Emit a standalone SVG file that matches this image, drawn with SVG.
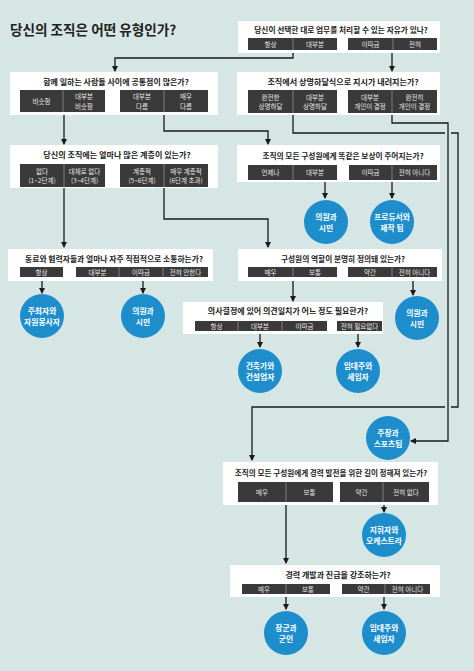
<svg xmlns="http://www.w3.org/2000/svg" width="474" height="671" viewBox="0 0 474 671">
<defs>
<style>
.bg{fill:#d5e6e5}
.box{fill:#ffffff}
.btn{fill:#3a3a3a}
.sep{stroke:#9c9c9c;stroke-width:0.7}
text{font-family:"Noto Sans CJK KR","Noto Sans",sans-serif}
.q{font-weight:bold;fill:#222;text-anchor:middle}
.b{fill:#e6e6e6;font-size:6.5px;text-anchor:middle}
.c{fill:#1d8dcc}
.ct{fill:#fff;font-weight:bold;font-size:7.8px;text-anchor:middle}
.ln{fill:none;stroke:#1a1a1a;stroke-width:1.3}
</style>
<marker id="ah" viewBox="0 0 6 6" markerWidth="6" markerHeight="6" refX="5" refY="3" orient="auto" markerUnits="userSpaceOnUse">
<path d="M0,0 L6,3 L0,6 z" fill="#1a1a1a"/>
</marker>
</defs>
<rect class="bg" x="0" y="0" width="474" height="671"/>
<text x="10" y="35" font-size="13.6" font-weight="bold" fill="#222">당신의 조직은 어떤 유형인가?</text>

<g id="connectors">
<path class="ln" marker-end="url(#ah)" d="M293,50 V58 H115 V71"/>
<path class="ln" marker-end="url(#ah)" d="M392,50 V71"/>
<path class="ln" marker-end="url(#ah)" d="M64,112 V144"/>
<path class="ln" marker-end="url(#ah)" d="M164,112 V131 H268 V144"/>
<path class="ln" marker-end="url(#ah)" d="M293,113 V133 H445 M451,133 H458 V407 H451 M445,407 H252 V460"/>
<path class="ln" marker-end="url(#ah)" d="M392,113 V123 H448 V441 H411"/>
<path class="ln" marker-end="url(#ah)" d="M64,187 V247"/>
<path class="ln" marker-end="url(#ah)" d="M164,187 V219 H268 V247"/>
<path class="ln" marker-end="url(#ah)" d="M325,180 V198"/>
<path class="ln" marker-end="url(#ah)" d="M392,180 V198"/>
<path class="ln" marker-end="url(#ah)" d="M42,277 V293"/>
<path class="ln" marker-end="url(#ah)" d="M143,277 V293"/>
<path class="ln" marker-end="url(#ah)" d="M293,277 V301"/>
<path class="ln" marker-end="url(#ah)" d="M413,277 V295"/>
<path class="ln" marker-end="url(#ah)" d="M260,331 V347"/>
<path class="ln" marker-end="url(#ah)" d="M358,331 V347"/>
<path class="ln" marker-end="url(#ah)" d="M286,502 V563"/>
<path class="ln" marker-end="url(#ah)" d="M384,502 V512"/>
<path class="ln" marker-end="url(#ah)" d="M286,594 V609"/>
<path class="ln" marker-end="url(#ah)" d="M384,594 V609"/>
</g>

<g id="q-freedom">
<rect class="box" x="238" y="21" width="202" height="32"/>
<text class="q" x="341" y="33" font-size="7.7">당신이 선택한 대로 업무를 처리할 수 있는 자유가 있나?</text>
<rect class="btn" x="248" y="38" width="89" height="12"/>
<line class="sep" x1="293" y1="38" x2="293" y2="50"/>
<rect class="btn" x="348" y="38" width="89" height="12"/>
<line class="sep" x1="393" y1="38" x2="393" y2="50"/>
<text class="b" x="270.5" y="46.5">항상</text>
<text class="b" x="315" y="46.5">대부분</text>
<text class="b" x="370.5" y="46.5">이따금</text>
<text class="b" x="415" y="46.5">전혀</text>
</g>

<g id="q-common">
<rect class="box" x="10" y="72" width="208" height="43"/>
<text class="q" x="116" y="85" font-size="8">함께 일하는 사람들 사이에 공통점이 많은가?</text>
<rect class="btn" x="20" y="90" width="85" height="22"/>
<line class="sep" x1="63" y1="90" x2="63" y2="112"/>
<rect class="btn" x="120" y="90" width="88" height="22"/>
<line class="sep" x1="164" y1="90" x2="164" y2="112"/>
<text class="b" x="41.5" y="103.5">비슷함</text>
<text class="b" x="84" y="99">대부분</text>
<text class="b" x="84" y="108.5">비슷함</text>
<text class="b" x="142" y="99">대부분</text>
<text class="b" x="142" y="108.5">다름</text>
<text class="b" x="186" y="99">매우</text>
<text class="b" x="186" y="108.5">다름</text>
</g>

<g id="q-topdown">
<rect class="box" x="237" y="72" width="203" height="43"/>
<text class="q" x="343" y="85" font-size="8.1">조직에서 상명하달식으로 지시가 내려지는가?</text>
<rect class="btn" x="248" y="90" width="89" height="23"/>
<line class="sep" x1="293" y1="90" x2="293" y2="113"/>
<rect class="btn" x="348" y="90" width="89" height="23"/>
<line class="sep" x1="392" y1="90" x2="392" y2="113"/>
<text class="b" x="270.5" y="99.5">완전한</text>
<text class="b" x="270.5" y="109">상명하달</text>
<text class="b" x="315" y="99.5">대부분</text>
<text class="b" x="315" y="109">상명하달</text>
<text class="b" x="370" y="99.5">대부분</text>
<text class="b" x="370" y="109">개인이 결정</text>
<text class="b" x="414.5" y="99.5">완전히</text>
<text class="b" x="414.5" y="109">개인이 결정</text>
</g>

<g id="q-hierarchy">
<rect class="box" x="10" y="145" width="208" height="43"/>
<text class="q" x="117" y="158" font-size="8.1">당신의 조직에는 얼마나 많은 계층이 있는가?</text>
<rect class="btn" x="20" y="164" width="85" height="23"/>
<line class="sep" x1="64" y1="164" x2="64" y2="187"/>
<rect class="btn" x="120" y="164" width="88" height="23"/>
<line class="sep" x1="164" y1="164" x2="164" y2="187"/>
<text class="b" x="42" y="173.5">없다</text>
<text class="b" x="42" y="183">(1~2단계)</text>
<text class="b" x="84.5" y="173.5">대체로 없다</text>
<text class="b" x="84.5" y="183">(3~4단계)</text>
<text class="b" x="142" y="173.5">계층적</text>
<text class="b" x="142" y="183">(5~6단계)</text>
<text class="b" x="186" y="173.5">매우 계층적</text>
<text class="b" x="186" y="183">(6단계 초과)</text>
</g>

<g id="q-reward">
<rect class="box" x="237" y="145" width="203" height="37"/>
<text class="q" x="343" y="159" font-size="7.7">조직의 모든 구성원에게 똑같은 보상이 주어지는가?</text>
<rect class="btn" x="248" y="165" width="89" height="15"/>
<line class="sep" x1="293" y1="165" x2="293" y2="180"/>
<rect class="btn" x="349" y="165" width="88" height="15"/>
<line class="sep" x1="392" y1="165" x2="392" y2="180"/>
<text class="b" x="270.5" y="175">언제나</text>
<text class="b" x="315" y="175">대부분</text>
<text class="b" x="370.5" y="175">이따금</text>
<text class="b" x="414.5" y="175">전혀 아니다</text>
</g>

<g id="q-communicate">
<rect class="box" x="8" y="249" width="205" height="32"/>
<text class="q" x="114" y="262" font-size="7.8">동료와 협력자들과 얼마나 자주 직접적으로 소통하는가?</text>
<rect class="btn" x="20" y="267" width="43" height="10"/>
<rect class="btn" x="76" y="267" width="132" height="10"/>
<line class="sep" x1="119" y1="267" x2="119" y2="277"/>
<line class="sep" x1="163" y1="267" x2="163" y2="277"/>
<text class="b" x="41.5" y="274.5">항상</text>
<text class="b" x="97.5" y="274.5">대부분</text>
<text class="b" x="141" y="274.5">이따금</text>
<text class="b" x="185.5" y="274.5">전혀 안한다</text>
</g>

<g id="q-roles">
<rect class="box" x="238" y="249" width="204" height="32"/>
<text class="q" x="343" y="262" font-size="7.7">구성원의 역할이 분명히 정의돼 있는가?</text>
<rect class="btn" x="248" y="267" width="89" height="10"/>
<line class="sep" x1="293" y1="267" x2="293" y2="277"/>
<rect class="btn" x="348" y="267" width="89" height="10"/>
<line class="sep" x1="392" y1="267" x2="392" y2="277"/>
<text class="b" x="270.5" y="274.5">매우</text>
<text class="b" x="315" y="274.5">보통</text>
<text class="b" x="370" y="274.5">약간</text>
<text class="b" x="414.5" y="274.5">전혀 아니다</text>
</g>

<g id="q-consensus">
<rect class="box" x="183" y="302" width="200" height="32"/>
<text class="q" x="288" y="314" font-size="8">의사결정에 있어 의견일치가 어느 정도 필요한가?</text>
<rect class="btn" x="195" y="321" width="132" height="10"/>
<line class="sep" x1="238" y1="321" x2="238" y2="331"/>
<line class="sep" x1="282" y1="321" x2="282" y2="331"/>
<rect class="btn" x="337" y="321" width="45" height="10"/>
<text class="b" x="216.5" y="328.5">항상</text>
<text class="b" x="260" y="328.5">대부분</text>
<text class="b" x="304.5" y="328.5">이따금</text>
<text class="b" x="359.5" y="328.5">전혀 필요없다</text>
</g>

<g id="q-career">
<rect class="box" x="223" y="462" width="215" height="43"/>
<text class="q" x="331" y="476" font-size="7.6">조직의 모든 구성원에게 경력 발전을 위한 길이 정해져 있는가?</text>
<rect class="btn" x="238" y="482" width="95" height="20"/>
<line class="sep" x1="286" y1="482" x2="286" y2="502"/>
<rect class="btn" x="340" y="482" width="89" height="20"/>
<line class="sep" x1="383" y1="482" x2="383" y2="502"/>
<text class="b" x="262" y="494.5">매우</text>
<text class="b" x="309.5" y="494.5">보통</text>
<text class="b" x="361.5" y="494.5">약간</text>
<text class="b" x="406" y="494.5">전혀 없다</text>
</g>

<g id="q-promotion">
<rect class="box" x="230" y="565" width="210" height="32"/>
<text class="q" x="338" y="578" font-size="8">경력 개발과 진급을 강조하는가?</text>
<rect class="btn" x="242" y="584" width="88" height="10"/>
<line class="sep" x1="286" y1="584" x2="286" y2="594"/>
<rect class="btn" x="342" y="584" width="88" height="10"/>
<line class="sep" x1="385" y1="584" x2="385" y2="594"/>
<text class="b" x="264" y="591.5">매우</text>
<text class="b" x="308" y="591.5">보통</text>
<text class="b" x="363.5" y="591.5">약간</text>
<text class="b" x="407.5" y="591.5">전혀 아니다</text>
</g>

<g id="r-legislators1"><circle class="c" cx="326" cy="222" r="22"/><text class="ct" x="326" y="220">의원과</text><text class="ct" x="326" y="230.5">시민</text></g>
<g id="r-producers"><circle class="c" cx="392" cy="222" r="22"/><text class="ct" x="392" y="220">프로듀서와</text><text class="ct" x="392" y="230.5">제작 팀</text></g>
<g id="r-hosts"><circle class="c" cx="42" cy="316" r="22"/><text class="ct" x="42" y="314">주최자와</text><text class="ct" x="42" y="324.5">자원봉사자</text></g>
<g id="r-legislators2"><circle class="c" cx="143" cy="316" r="22"/><text class="ct" x="143" y="314">의원과</text><text class="ct" x="143" y="324.5">시민</text></g>
<g id="r-legislators3"><circle class="c" cx="417" cy="318" r="22"/><text class="ct" x="417" y="316">의원과</text><text class="ct" x="417" y="326.5">시민</text></g>
<g id="r-architects"><circle class="c" cx="260" cy="371" r="22"/><text class="ct" x="260" y="369">건축가와</text><text class="ct" x="260" y="379.5">건설업자</text></g>
<g id="r-landlords1"><circle class="c" cx="358" cy="371" r="22"/><text class="ct" x="358" y="369">임대주와</text><text class="ct" x="358" y="379.5">세입자</text></g>
<g id="r-captains"><circle class="c" cx="388" cy="438" r="22"/><text class="ct" x="388" y="436">주장과</text><text class="ct" x="388" y="446.5">스포츠팀</text></g>
<g id="r-conductors"><circle class="c" cx="384" cy="535" r="22"/><text class="ct" x="384" y="533">지휘자와</text><text class="ct" x="384" y="543.5">오케스트라</text></g>
<g id="r-generals"><circle class="c" cx="286" cy="633" r="22"/><text class="ct" x="286" y="631">장군과</text><text class="ct" x="286" y="641.5">군인</text></g>
<g id="r-landlords2"><circle class="c" cx="384" cy="633" r="22"/><text class="ct" x="384" y="631">임대주와</text><text class="ct" x="384" y="641.5">세입자</text></g>
</svg>
